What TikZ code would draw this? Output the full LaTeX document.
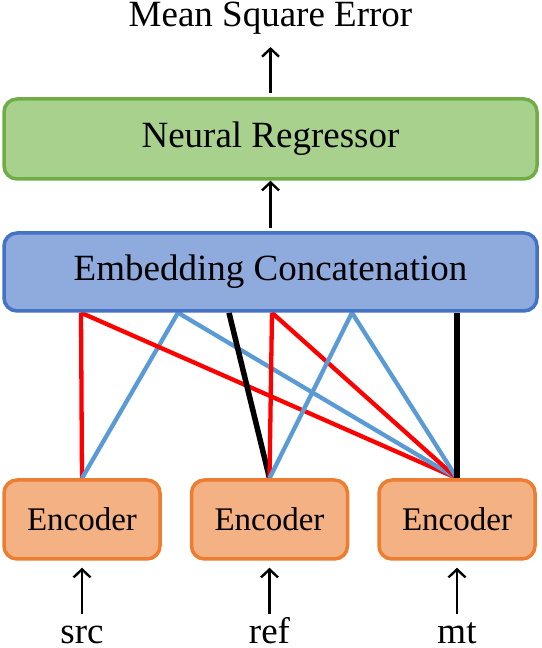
\documentclass[tikz,border=0pt]{standalone}
\usepackage{fontspec}
\setmainfont{Liberation Serif}
\usetikzlibrary{positioning, calc, arrows.meta, backgrounds}
\usepackage{xcolor}
\definecolor{regfill}{HTML}{A9D18E}
\definecolor{regline}{HTML}{70AD47}
\definecolor{embfill}{HTML}{8FAADC}
\definecolor{embline}{HTML}{4472C4}
\definecolor{encfill}{HTML}{F4B183}
\definecolor{encline}{HTML}{ED7D31}
\definecolor{linkred}{HTML}{FF0000}
\definecolor{linkblue}{HTML}{5B9BD5}
\tikzstyle{Box} = [
draw, line width=3.5pt, rounded corners=13pt, inner sep=0pt,
font=\fontsize{37}{44}\selectfont]
\tikzstyle{Enc} = [
Box, fill=encfill, draw=encline,
minimum width=156pt, minimum height=79pt,
font=\fontsize{33}{40}\selectfont]
\tikzstyle{Input} = [
inner sep=0pt, text height=22pt, text depth=0pt,
font=\fontsize{37}{44}\selectfont]
\tikzstyle{Arrow} = [
line width=2.4pt,
-{Straight Barb[length=8pt, width=17pt]}]
\tikzstyle{Link} = [line width=4.3pt]

\begin{document}
\begin{tikzpicture}[x=1pt, y=1pt]
    \useasboundingbox (0,0) rectangle (541,648);

    \node [Box, fill=regfill, draw=regline, minimum width=533pt,
        minimum height=80pt] (reg) at (270.5,509) {Neural Regressor};
    \node [Box, fill=embfill, draw=embline, minimum width=533pt,
        minimum height=78pt] (emb) at (270.5,376) {Embedding Concatenation};
    \node [anchor=base, inner sep=0pt, font=\fontsize{37}{44}\selectfont]
        (mse) at (270.5,621) {Mean Square Error};

    \node [Enc] (enc1) at (82,128.5) {Encoder};
    \node [Enc, right=28pt of enc1] (enc2) {Encoder};
    \node [Enc, right=28pt of enc2] (enc3) {Encoder};

    \node [Input, below=61pt of enc1] (src) {src};
    \node [Input, below=61pt of enc2] (ref) {ref};
    \node [Input, below=61pt of enc3] (mt) {mt};

    \draw[Arrow, shorten <=8pt, shorten >=7pt] (src) -- (enc1);
    \draw[Arrow, shorten <=8pt, shorten >=7pt] (ref) -- (enc2);
    \draw[Arrow, shorten <=8pt, shorten >=7pt] (mt) -- (enc3);
    \draw[Arrow, shorten <=3pt] (emb) -- (reg);
    \draw[Arrow, shorten <=4pt, shorten >=12pt] (reg) -- (mse);

    % links from the encoders up to the concatenation
    \begin{scope}[on background layer]
    \coordinate (c1) at ([xshift=-189.5pt]emb.south);
    \coordinate (c2) at ([xshift=-92.5pt]emb.south);
    \coordinate (c3) at ([xshift=-41.5pt]emb.south);
    \coordinate (c4) at ([xshift=1.5pt]emb.south);
    \coordinate (c5) at ([xshift=81.5pt]emb.south);
    \coordinate (c6) at ([xshift=186.5pt]emb.south);

    \draw[Link, linkred] (enc1.north) -- (c1);
    \draw[Link, linkblue] (enc1.north) -- (c2);
    \draw[Link, linkred] (enc3.north) -- (c1);
    \draw[Link, linkblue] (enc3.north) -- (c2);
    \draw[Link, black, line width=5.5pt] (enc2.north) -- (c3);
    \draw[Link, linkred] (enc2.north) -- (c4);
    \draw[Link, linkred] (enc3.north) -- (c4);
    \draw[Link, linkblue] (enc2.north) -- (c5);
    \draw[Link, linkblue] (enc3.north) -- (c5);
    \draw[Link, black, line width=5.5pt] (enc3.north) -- (c6);
    \end{scope}
\end{tikzpicture}
\end{document}
